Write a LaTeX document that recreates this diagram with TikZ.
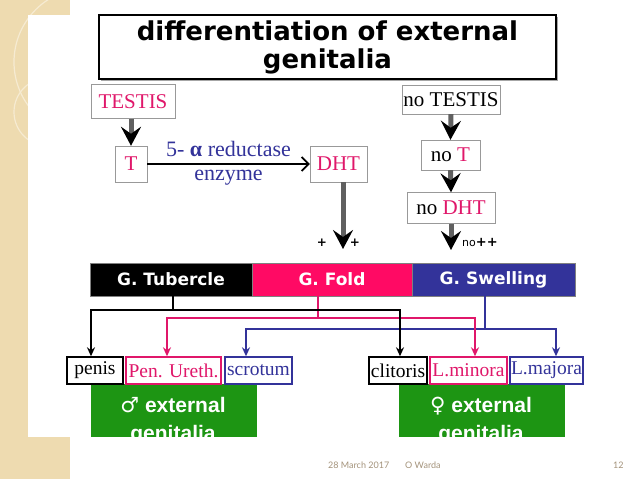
\documentclass[tikz,border=0pt]{standalone}
\usepackage{fontspec}
\setmainfont{Liberation Serif}
\newfontfamily\barfont{DejaVu Sans}
\newfontfamily\greenfont{Liberation Sans}
\newfontfamily\footfont{Lato}
\usetikzlibrary{arrows.meta,positioning,shadows}
\definecolor{beige}{HTML}{EEDBB0}
\definecolor{ringbeige}{HTML}{F6EBD2}
\definecolor{crimson}{HTML}{E0176A}
\definecolor{barpink}{HTML}{FF0A64}
\definecolor{navy}{HTML}{33339A}
\definecolor{leafgreen}{HTML}{1D9513}
\definecolor{footgray}{HTML}{A3927A}

\begin{document}
\begin{tikzpicture}[x=1pt,y=-1pt,
			box/.style={draw=gray!80,fill=white,inner sep=0pt,font=\fontsize{21}{24}\selectfont},
			leaf/.style={draw,line width=1.4pt,fill=white,inner sep=0pt,minimum height=27pt,font=\fontsize{19.5}{22}\selectfont},
			seg/.style={draw=gray,inner sep=0pt,minimum height=33pt,text=white,font=\barfont\bfseries\fontsize{17}{20}\selectfont},
			fat/.style={draw=gray!75!black,line width=5pt,-{Stealth[color=black,length=19pt,width=20pt,inset=7pt]}},
			link/.style={line width=1.6pt,-{Stealth[length=9pt,width=8pt]}},
			gpad/.style={fill=leafgreen,inner sep=0pt,minimum width=166pt,minimum height=53pt},
			gtext/.style={text=white,inner sep=0pt,font=\greenfont\bfseries\fontsize{21}{24}\selectfont},
			foot/.style={text=footgray,inner sep=0pt,font=\footfont\fontsize{9}{10}\selectfont},
			enzlabel/.style={text=navy,inner sep=2pt,font=\fontsize{22}{24}\selectfont}
			]
			\useasboundingbox (0,0) rectangle (638,479);
			% slide background
			\fill[beige] (0,0) rectangle (70,479);
			\begin{scope}
				\clip (0,0) rectangle (70,479);
				\draw[ringbeige,line width=1.2pt] (88,62) circle (74);
				\draw[ringbeige,line width=1.2pt] (48,112) circle (34);
			\end{scope}
			\fill[white] (28,15) rectangle (638,437);
			
			\node[draw=black,line width=1.3pt,fill=white,minimum width=457pt,minimum height=64pt,align=center,inner sep=0pt,
			font=\barfont\bfseries\fontsize{26}{28}\selectfont,
			drop shadow={shadow xshift=2pt,shadow yshift=-2pt,fill=gray!70,opacity=1}] (title) at (327.5,47) {differentiation of external\\genitalia};
			
			% with testis
			\node[box,minimum width=84pt,minimum height=34pt,text=crimson] (testis) at (133,101.5) {TESTIS};
			\node[box,minimum width=32pt,minimum height=36pt,text=crimson] (tt) at (131,164) {T};
			\node[box,minimum width=57pt,minimum height=36pt,text=crimson] (dht) at (338.5,164) {DHT};
			\draw[fat] (testis.south -| tt) -- (tt.north);
			\draw[line width=1.8pt,-{Straight Barb[length=7pt,width=14pt]}] (tt.east) --
			node[above=4pt,enzlabel] (enzl) {5- \textbf{α} reductase}
			node[below=3pt,enzlabel] (enz) {enzyme} (dht.west);
			\coordinate (dhtend) at (343,249);
			\draw[fat] (dht.south -| dhtend) -- (dhtend);
			\node[font=\barfont\bfseries\fontsize{12}{12}\selectfont] (plusl) at (322,243) {+};
			\node[font=\barfont\bfseries\fontsize{12}{12}\selectfont] (plusr) at (355,243) {+};
			
			% without testis
			\node[box,minimum width=98pt,minimum height=29pt] (notestis) at (451,99.5) {no TESTIS};
			\node[box,minimum width=59pt,minimum height=30pt] (nott) at (450.5,155) {no \textcolor{crimson}{T}};
			\node[box,minimum width=88pt,minimum height=31pt] (nodht) at (451,208) {no \textcolor{crimson}{DHT}};
			\draw[fat] (notestis.south) -- (nott.north);
			\draw[fat] (nott.south) -- (nodht.north);
			\coordinate (nodhtend) at (451,250);
			\draw[fat] (nodht.south) -- (nodhtend);
			\node[anchor=west,inner sep=0pt,font=\barfont\fontsize{11}{12}\selectfont] (nopp) at (462,243) {no\textbf{\fontsize{13}{13}\selectfont ++}};
			
			% genital bar
			\node[seg,fill=black,minimum width=162pt] (tub) at (171,279.5) {G. Tubercle};
			\node[seg,fill=barpink,minimum width=160pt] (fold) at (332,279.5) {G. Fold};
			\node[seg,fill=navy,minimum width=163pt] (swell) at (493.5,279.5) {G. Swelling};
			
			% green pads
			\begin{scope}
				\clip (0,0) rectangle (638,437);
				\node[gpad] (mpad) at (173.5,410.5) {};
				\node[gpad] (fpad) at (482,410.5) {};
				\node[gtext,anchor=base] (mext) at (173,412) {{\barfont\mdseries ♂} external};
				\node[gtext,anchor=base] (mgen) at (173,440) {genitalia};
				\node[gtext,anchor=base] (fext) at (481,412) {{\barfont\mdseries ♀} external};
				\node[gtext,anchor=base] (fgen) at (481,440) {genitalia};
			\end{scope}
			
			% end organs
			\node[leaf,minimum width=56pt] (penis) at (95,370.5) {penis};
			\node[leaf,draw=crimson,text=crimson,minimum width=95pt] (ureth) at (173.5,370.5) {Pen. Ureth.};
			\node[leaf,draw=navy,text=navy,minimum width=67pt] (scrot) at (258.5,370.5) {scrotum};
			\node[leaf,minimum width=58pt] (clit) at (398,370.5) {clitoris};
			\node[leaf,draw=crimson,text=crimson,minimum width=77pt] (minora) at (468.5,370.5) {L.minora};
			\node[leaf,draw=navy,text=navy,minimum width=73pt] (majora) at (546.5,370.5) {L.majora};
			
			\coordinate (jt) at (173,310);
			\coordinate (jf) at (318,318);
			\coordinate (js) at (485,329);
			\draw[link,navy] (js |- swell.south) -- (js) -| ([xshift=-12.5pt]scrot.north);
			\draw[link,navy] (js) -| ([xshift=9.5pt]majora.north);
			\draw[link,crimson] (jf |- fold.south) -- (jf) -| ([xshift=-6.5pt]ureth.north);
			\draw[link,crimson] (jf) -| ([xshift=6.5pt]minora.north);
			\draw[link] (jt |- tub.south) -- (jt) -| ([xshift=-4pt]penis.north);
			\draw[link] (jt) -| ([xshift=2pt]clit.north);
			
			\node[foot,anchor=base west] (date) at (328,468) {28 March 2017};
			\node[foot,anchor=base west] (author) at (405,468) {O Warda};
			\node[foot,anchor=base west] (page) at (613,468) {12};
		\end{tikzpicture}
\end{document}
